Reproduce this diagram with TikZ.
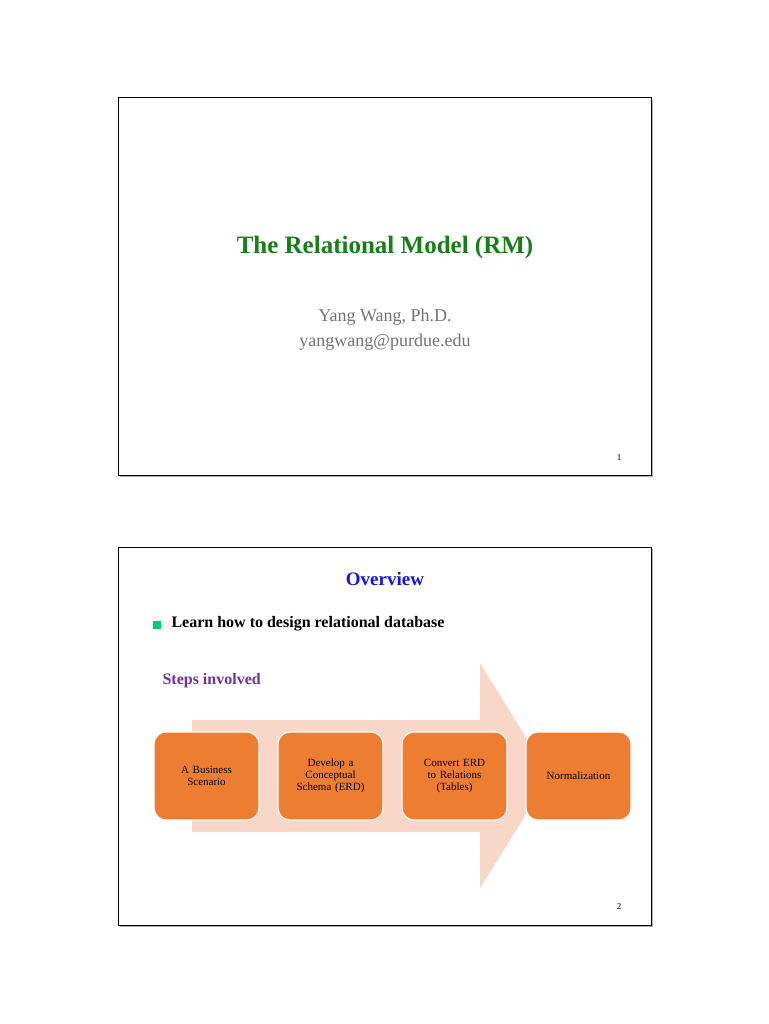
\documentclass[tikz,border=0pt]{standalone}
\usepackage{fontspec}
\setmainfont{Liberation Serif}
\definecolor{ttlgreen}{RGB}{22,128,22}
\definecolor{ovblue}{RGB}{20,20,230}
\definecolor{stpurple}{RGB}{112,48,160}
\definecolor{boxorange}{RGB}{237,125,49}
\definecolor{arrowpink}{RGB}{248,215,200}
\definecolor{bulgreen}{RGB}{0,204,102}
\tikzset{
  slide/.style={draw=black, line width=1pt, fill=white},
  stepbox/.style={draw=white, line width=1.2pt, fill=boxorange, rounded corners=12pt, minimum width=105pt, minimum height=88pt, align=center, font=\fontsize{11}{12}\selectfont, text width=95pt},
  pgnum/.style={font=\fontsize{9}{10}\selectfont}
}
\begin{document}
\begin{tikzpicture}[x=1pt,y=-1pt]
\useasboundingbox (0,0) rectangle (768,1024);
\fill[white] (0,0) rectangle (768,1024);
% slide 1
\fill[gray!60] (120,100) rectangle (653,477);
\draw[slide] (118,98) rectangle (651,475);
\node[text=ttlgreen, font=\fontsize{25}{28}\selectfont\bfseries] (t1) at (385,247) {The Relational Model (RM)};
\node[text=gray!90!black, font=\fontsize{18}{20}\selectfont] (a1) at (385,317) {Yang Wang, Ph.D.};
\node[text=gray!90!black, font=\fontsize{18}{20}\selectfont] (e1) at (385,342) {yangwang@purdue.edu};
\node[pgnum] (p1) at (619,458) {1};
% slide 2
\fill[gray!60] (120,549) rectangle (653,927);
\draw[slide] (118,547) rectangle (651,925);
\node[text=ovblue, font=\fontsize{19}{22}\selectfont\bfseries] (ov) at (385,579) {Overview};
\node[fill=bulgreen, minimum size=8pt, inner sep=0pt] (bul) at (157,625) {};
\node[anchor=west, font=\fontsize{16}{18}\selectfont\bfseries] (bt) at (168,624) {Learn how to design relational database};
\node[anchor=west, text=stpurple, font=\fontsize{16}{18}\selectfont\bfseries] (si) at (159,681) {Steps involved};
\fill[arrowpink] (192,720) -- (480,720) -- (480,663) -- (550,776) -- (480,888) -- (480,832) -- (192,832) -- cycle;
\node[stepbox] (b1) at (206.5,776) {A Business\\Scenario};
\node[stepbox] (b2) at (330.5,776) {Develop a\\Conceptual\\Schema (ERD)};
\node[stepbox] (b3) at (454.5,776) {Convert ERD\\to Relations\\(Tables)};
\node[stepbox] (b4) at (578.5,776) {Normalization};
\node[pgnum] (p2) at (619,907) {2};
\end{tikzpicture}
\end{document}
